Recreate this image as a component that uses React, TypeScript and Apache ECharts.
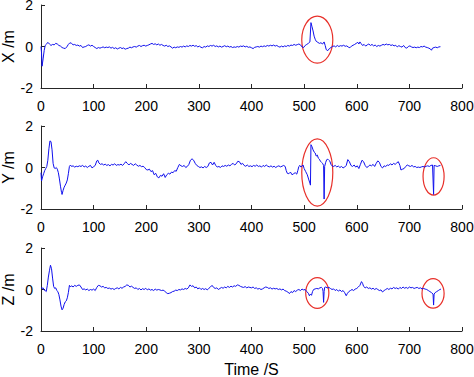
import React, { useEffect, useRef } from "react";
import * as echarts from "echarts";

const xTicks = [0, 100, 200, 300, 400, 500, 600, 700, 800];
const yTicks = [-2, 0, 2];
const axisNames = ["X /m", "Y /m", "Z /m"];
const timeName = "Time /S";

const xData: number[][] = [[0,0],[1,-0.3],[2,-0.95],[4,-0.6],[6,-0.2],[8,0.05],[10,0.1],[13,0.2],[16,0.12],[19,0.05],[22,0.1],[25,0.08],[28,0.15],[31,0.12],[34,0.05],[37,0.02],[40,-0.05],[43,-0.08],[46,-0.1],[49,-0.02],[52,0.1],[55,0.18],[58,0.15],[61,0.08],[64,0.1],[67,0.05],[70,0.07],[73,0.02],[76,0.05],[79,-0.05],[82,-0.02],[85,0.0],[88,0.05],[91,0.08],[94,0.02],[97,0.06],[100,0.0],[103,-0.05],[106,-0.1],[109,-0.05],[112,-0.08],[115,-0.05],[118,-0.02],[121,-0.06],[124,-0.03],[127,-0.05],[130,-0.02],[133,-0.08],[136,-0.04],[139,-0.1],[142,-0.06],[145,-0.12],[148,-0.08],[151,-0.05],[154,-0.1],[157,-0.07],[160,-0.13],[163,-0.1],[166,-0.08],[169,-0.03],[172,-0.06],[175,-0.02],[178,0.0],[181,-0.03],[184,0.02],[187,0.05],[190,0.0],[193,0.04],[196,0.06],[199,0.02],[202,0.05],[205,0.08],[208,0.12],[211,0.15],[214,0.1],[217,0.13],[220,0.08],[223,0.12],[226,0.06],[229,0.1],[232,0.05],[235,0.02],[238,0.06],[241,0.0],[244,0.03],[247,-0.02],[250,-0.08],[253,-0.03],[256,-0.06],[259,-0.02],[262,-0.04],[265,0.0],[268,-0.03],[271,0.02],[274,-0.02],[277,0.03],[280,0.0],[283,0.05],[286,0.02],[289,0.06],[292,0.01],[295,0.04],[298,-0.02],[301,0.02],[304,-0.04],[307,-0.06],[310,0.0],[313,-0.03],[316,0.03],[319,0.0],[322,0.05],[325,0.02],[328,0.06],[331,0.0],[334,0.03],[337,-0.02],[340,0.02],[343,-0.03],[346,0.0],[349,0.04],[352,-0.01],[355,0.02],[358,-0.03],[361,0.0],[364,-0.05],[367,-0.02],[370,-0.04],[373,0.0],[376,-0.03],[379,0.02],[382,0.0],[385,0.03],[388,-0.02],[391,0.01],[394,-0.04],[397,-0.02],[400,-0.06],[403,-0.1],[406,-0.04],[409,-0.02],[412,0.0],[415,-0.03],[418,0.02],[421,-0.01],[424,0.03],[427,0.0],[430,0.05],[433,0.02],[436,0.06],[439,0.03],[442,0.07],[445,0.02],[448,0.05],[451,0.0],[454,-0.03],[457,0.02],[460,-0.02],[463,0.03],[466,0.0],[469,0.05],[472,0.02],[475,0.07],[478,0.05],[481,0.1],[484,0.06],[487,0.09],[490,0.12],[493,0.08],[496,-0.02],[499,-0.05],[502,0.05],[505,0.1],[508,0.15],[511,0.22],[513,1.15],[515,0.95],[517,0.75],[519,0.5],[521,0.35],[523,0.25],[526,0.2],[529,0.15],[532,0.18],[535,0.12],[538,0.22],[540,0.05],[542,-0.15],[545,-0.2],[548,-0.1],[551,-0.05],[554,0.0],[557,0.03],[560,-0.02],[563,0.05],[566,0.0],[569,0.04],[572,0.02],[575,0.06],[578,0.01],[581,0.03],[584,-0.03],[587,-0.06],[590,0.02],[593,0.06],[596,0.1],[599,0.15],[602,0.2],[604,0.12],[606,0.22],[608,0.15],[611,0.05],[614,0.1],[617,0.02],[620,0.08],[623,0.12],[626,0.05],[629,0.1],[632,0.03],[635,0.07],[638,0.0],[641,0.05],[644,0.02],[647,0.06],[650,0.1],[653,0.07],[656,0.12],[659,0.08],[662,0.1],[665,0.05],[668,0.08],[671,0.03],[674,0.06],[677,-0.02],[680,0.04],[683,0.0],[686,-0.03],[689,0.05],[692,-0.05],[695,-0.08],[698,0.0],[701,0.03],[704,-0.02],[707,-0.05],[710,-0.03],[713,-0.06],[716,-0.03],[719,-0.05],[722,0.0],[725,-0.02],[728,0.02],[731,-0.03],[734,-0.05],[737,-0.08],[740,-0.12],[742,-0.18],[744,-0.08],[747,-0.05],[750,-0.03],[753,-0.06],[756,-0.02],[759,-0.01]];

const yData: number[][] = [[0,-0.25],[1,-0.65],[3,-0.45],[5,-0.3],[7,-0.15],[9,-0.05],[11,0.05],[13,0.35],[15,0.9],[17,1.28],[19,1.25],[21,0.85],[23,0.2],[25,-0.02],[27,-0.05],[29,0.0],[31,-0.08],[33,-0.25],[35,-0.55],[37,-0.9],[39,-1.2],[40,-1.3],[42,-1.1],[44,-0.95],[46,-0.85],[48,-0.75],[50,-0.6],[52,-0.3],[54,0.05],[56,0.12],[58,0.05],[61,0.08],[64,0.02],[67,0.06],[70,0.04],[73,0.08],[76,0.05],[79,0.1],[82,0.03],[85,0.07],[88,0.0],[91,0.06],[94,0.1],[97,-0.02],[100,0.04],[103,0.1],[106,0.32],[108,0.35],[110,0.22],[113,0.15],[116,0.18],[119,0.12],[122,0.16],[125,0.1],[128,0.14],[131,0.08],[134,0.15],[137,0.12],[140,0.18],[143,0.1],[146,0.14],[149,0.12],[152,0.16],[155,0.1],[158,0.18],[161,0.28],[164,0.2],[167,0.12],[170,0.2],[173,0.15],[176,0.1],[179,0.18],[182,0.12],[185,0.06],[188,0.1],[191,0.04],[194,0.06],[197,0.0],[200,-0.1],[203,-0.12],[206,-0.08],[209,-0.2],[212,-0.15],[215,-0.35],[218,-0.28],[221,-0.45],[224,-0.5],[227,-0.38],[230,-0.42],[233,-0.3],[236,-0.48],[239,-0.35],[242,-0.28],[245,-0.32],[248,-0.22],[251,-0.25],[254,-0.15],[257,-0.18],[260,0.0],[263,0.15],[266,0.08],[269,0.05],[272,0.1],[275,0.0],[278,0.05],[281,0.15],[284,0.35],[287,0.42],[290,0.35],[293,0.2],[296,0.1],[299,0.05],[302,0.0],[305,0.03],[308,-0.02],[311,0.05],[314,0.0],[317,0.05],[320,0.22],[323,0.25],[326,0.12],[329,0.25],[332,0.1],[335,0.02],[338,0.05],[341,0.0],[344,0.08],[347,0.05],[350,0.1],[353,0.06],[356,0.12],[359,0.08],[362,0.15],[365,0.2],[368,0.12],[371,0.18],[374,0.3],[377,0.28],[380,0.15],[383,0.2],[386,0.1],[389,0.06],[392,0.12],[395,0.05],[398,0.08],[401,0.04],[404,0.1],[407,0.06],[410,0.12],[413,0.05],[416,0.08],[419,0.02],[422,0.1],[425,0.05],[428,0.12],[431,0.06],[434,0.03],[437,0.08],[440,0.02],[443,0.06],[446,0.0],[449,0.05],[452,0.08],[455,0.03],[458,0.06],[461,0.1],[464,0.05],[466,-0.15],[468,-0.28],[471,-0.3],[474,-0.22],[477,-0.35],[480,-0.3],[483,-0.25],[486,-0.32],[488,-0.15],[490,0.05],[492,0.1],[494,0.02],[496,0.08],[498,0.12],[500,-0.05],[503,-0.2],[506,-0.35],[509,-0.6],[511,-0.75],[512,-0.85],[513,1.1],[515,1.0],[517,0.85],[519,0.75],[521,0.7],[523,0.55],[525,0.6],[527,0.45],[529,0.4],[531,0.3],[533,0.25],[535,0.2],[537,0.1],[538,-1.52],[539,0.05],[541,0.25],[543,0.38],[545,0.4],[547,0.35],[549,0.3],[551,0.15],[553,0.08],[556,0.05],[559,0.1],[562,0.03],[565,0.07],[568,0.0],[571,0.05],[574,-0.02],[577,0.02],[580,0.1],[583,0.38],[586,0.28],[589,0.1],[592,0.05],[595,0.12],[598,0.02],[601,0.08],[604,-0.05],[607,0.15],[610,0.35],[613,0.28],[616,0.1],[619,0.0],[622,0.05],[625,0.12],[628,0.08],[631,0.15],[634,0.05],[637,0.2],[640,0.32],[643,0.25],[646,0.05],[649,-0.02],[652,0.08],[655,0.05],[658,0.12],[661,0.1],[664,0.18],[667,0.12],[670,0.2],[673,0.15],[676,0.22],[679,0.28],[682,0.1],[684,-0.12],[687,-0.08],[690,-0.05],[693,0.05],[696,0.12],[699,0.08],[702,0.05],[705,0.1],[708,0.03],[711,0.05],[714,0.0],[717,0.02],[720,0.0],[723,0.03],[726,0.05],[729,0.02],[732,0.06],[735,0.08],[738,0.05],[741,0.1],[744,0.12],[745,0.12],[746,-1.3],[747,0.1],[750,0.08],[753,0.05],[756,0.08],[759,0.1]];

const zData: number[][] = [[0,0.1],[2,0.05],[4,0.08],[6,-0.03],[8,-0.05],[10,-0.1],[12,0.2],[14,0.6],[16,0.9],[18,1.17],[20,1.0],[22,0.55],[24,0.15],[26,0.05],[28,0.08],[30,-0.05],[32,-0.1],[34,-0.25],[36,-0.5],[38,-0.8],[40,-0.98],[42,-0.9],[44,-0.72],[46,-0.6],[48,-0.55],[50,-0.4],[52,-0.15],[54,0.2],[56,0.12],[58,0.18],[61,0.12],[64,0.2],[67,0.15],[70,0.2],[73,0.22],[76,0.12],[79,0.0],[82,0.03],[85,-0.02],[88,0.02],[91,-0.05],[94,0.0],[97,-0.03],[100,0.02],[103,-0.05],[106,0.1],[109,0.2],[112,0.18],[115,0.12],[118,0.15],[121,0.08],[124,0.1],[127,0.05],[130,0.07],[133,0.02],[136,0.05],[139,0.0],[142,0.05],[145,0.08],[148,0.03],[151,0.1],[154,0.06],[157,0.12],[160,0.15],[163,0.22],[166,0.2],[169,0.12],[172,0.16],[175,0.1],[178,0.05],[181,0.08],[184,0.0],[187,0.05],[190,-0.02],[193,0.04],[196,0.0],[199,0.06],[202,-0.02],[205,0.03],[208,-0.03],[211,0.0],[214,-0.05],[217,0.02],[220,-0.03],[223,0.0],[226,-0.02],[229,-0.05],[232,-0.03],[235,-0.08],[238,-0.15],[241,-0.2],[244,-0.18],[247,-0.15],[250,-0.1],[253,-0.08],[256,-0.03],[259,-0.05],[262,0.0],[265,-0.02],[268,0.03],[271,0.0],[274,0.05],[277,0.02],[280,0.08],[283,0.22],[286,0.15],[289,0.18],[292,0.08],[295,0.12],[298,0.03],[301,0.08],[304,0.0],[307,0.05],[310,0.0],[313,0.04],[316,-0.02],[319,0.06],[322,0.12],[325,0.2],[328,0.1],[331,0.05],[334,0.08],[337,0.0],[340,0.05],[343,0.1],[346,0.06],[349,0.12],[352,0.08],[355,0.15],[358,0.1],[361,0.16],[364,0.12],[367,0.18],[370,0.15],[373,0.22],[376,0.2],[379,0.15],[382,0.12],[385,0.1],[388,0.14],[391,0.08],[394,0.12],[397,0.1],[400,0.08],[403,0.12],[406,0.05],[409,0.08],[412,0.02],[415,0.05],[418,0.0],[421,0.03],[424,0.08],[427,0.12],[430,0.1],[433,0.05],[436,0.08],[439,0.02],[442,0.06],[445,0.03],[448,0.05],[451,0.0],[454,0.03],[457,-0.02],[460,0.02],[463,-0.05],[466,-0.08],[469,-0.12],[472,-0.2],[475,-0.1],[478,-0.15],[481,-0.05],[484,-0.1],[487,-0.03],[490,0.0],[493,-0.05],[496,0.02],[499,-0.02],[502,0.0],[505,-0.1],[508,-0.18],[510,-0.3],[512,-0.22],[514,-0.28],[516,-0.1],[518,0.0],[521,0.03],[524,0.05],[527,0.03],[530,0.08],[533,0.1],[535,0.05],[536,-0.1],[537,-0.62],[538,-0.1],[539,0.1],[541,0.12],[544,0.08],[547,0.1],[550,0.05],[553,0.0],[556,0.03],[559,-0.05],[562,0.0],[565,-0.08],[568,-0.02],[571,-0.1],[574,-0.05],[577,-0.15],[580,-0.3],[582,-0.2],[585,-0.1],[588,-0.05],[591,0.0],[594,-0.05],[597,0.02],[600,0.05],[603,0.12],[606,0.2],[609,0.38],[611,0.3],[613,0.15],[616,0.08],[619,0.12],[622,0.05],[625,0.08],[628,0.02],[631,0.06],[634,0.0],[637,0.05],[640,0.0],[643,-0.05],[646,-0.02],[649,-0.12],[652,-0.05],[655,0.0],[658,0.05],[661,0.0],[664,0.06],[667,0.03],[670,0.1],[673,0.05],[676,0.08],[679,0.02],[682,0.1],[685,0.05],[688,0.12],[691,0.06],[694,0.1],[697,0.05],[700,0.12],[703,0.08],[706,0.1],[709,0.05],[712,0.08],[715,0.1],[718,0.05],[721,0.08],[724,0.03],[727,0.05],[730,0.02],[733,0.0],[736,-0.05],[739,-0.1],[742,-0.15],[745,-0.22],[746,-0.75],[747,-0.22],[749,-0.15],[752,-0.1],[755,-0.05],[758,0.0],[760,0.02]];

// ellipses: [centerTime, centerValue, halfWidth(time), halfHeight(value)]
const xEllipses: number[][] = [[525, 0.33, 29.5, 1.13]];
const yEllipses: number[][] = [[525, -0.24, 29.5, 1.62], [746, -0.43, 20, 0.9]];
const zEllipses: number[][] = [[525, -0.17, 22, 0.74], [745, -0.19, 21, 0.71]];

const seriesData = [xData, yData, zData];
const ellipseData = [xEllipses, yEllipses, zEllipses];

const FONT = "Liberation Sans, Arial, sans-serif";
const AXIS_COLOR = "#262626";

export default function App() {
  const ref = useRef<HTMLDivElement>(null);
  useEffect(() => {
    if (!ref.current) return;
    const chart = echarts.init(ref.current, undefined, { renderer: "svg" });
    const tops = [5, 126, 248];
    const grids = tops.map((t) => ({
      left: 41,
      width: 421,
      top: t,
      height: 83,
      containLabel: false,
      outerBoundsMode: "none",
    }));
    const xAxes = tops.map((_, i) => ({
      type: "value",
      gridIndex: i,
      min: xTicks[0],
      max: xTicks[xTicks.length - 1],
      interval: 100,
      name: i === 2 ? timeName : "",
      nameLocation: "middle",
      nameGap: 30,
      nameMoveOverlap: false,
      nameTextStyle: { fontSize: 16, color: "#000", fontFamily: FONT },
      axisLine: { show: true, onZero: false, lineStyle: { color: AXIS_COLOR, width: 1 } },
      axisTick: { show: true, inside: true, length: 4, lineStyle: { color: AXIS_COLOR } },
      axisLabel: { fontSize: 14, color: "#000", fontFamily: FONT, margin: 11, showMinLabel: true, showMaxLabel: true },
      splitLine: { show: false },
    }));
    const yAxes = tops.map((_, i) => ({
      type: "value",
      gridIndex: i,
      min: yTicks[0],
      max: yTicks[yTicks.length - 1],
      interval: 2,
      name: axisNames[i],
      nameLocation: "middle",
      nameGap: 25,
      nameRotate: 90,
      nameMoveOverlap: false,
      nameTextStyle: { fontSize: 16, color: "#000", fontFamily: FONT },
      axisLine: { show: true, onZero: false, lineStyle: { color: AXIS_COLOR, width: 1 } },
      axisTick: { show: true, inside: true, length: 4, lineStyle: { color: AXIS_COLOR } },
      axisLabel: { fontSize: 14, color: "#000", fontFamily: FONT, margin: 8 },
      splitLine: { show: false },
    }));
    const series: any[] = [];
    seriesData.forEach((d, i) => {
      series.push({
        type: "line",
        xAxisIndex: i,
        yAxisIndex: i,
        data: d,
        showSymbol: false,
        symbol: "none",
        lineStyle: { color: "#1010ee", width: 1 },
      });
      series.push({
        type: "custom",
        xAxisIndex: i,
        yAxisIndex: i,
        data: ellipseData[i],
        encode: { x: 0, y: 1 },
        clip: false,
        renderItem: (params: any, api: any) => {
          const c = api.coord([api.value(0), api.value(1)]);
          const s = api.size([api.value(2), api.value(3)]);
          return {
            type: "ellipse",
            shape: { cx: c[0], cy: c[1], rx: s[0], ry: s[1] },
            style: { fill: "none", stroke: "#e8302a", lineWidth: 1.2 },
          };
        },
      });
    });
    chart.setOption({
      animation: false,
      backgroundColor: "#fff",
      grid: grids,
      xAxis: xAxes,
      yAxis: yAxes,
      series,
    });
    return () => chart.dispose();
  }, []);
  return (
    <div
      ref={ref}
      style={{ position: "fixed", left: 0, top: 0, width: 474, height: 377, background: "#fff" }}
    />
  );
}
